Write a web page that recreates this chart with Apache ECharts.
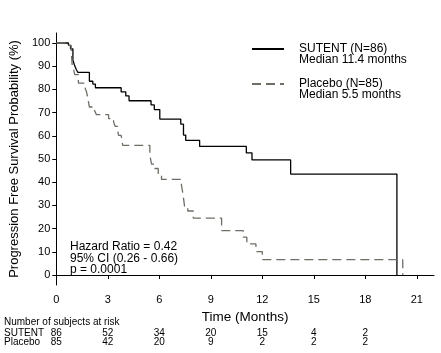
<!DOCTYPE html>
<html>
<head>
<meta charset="utf-8">
<script src="https://cdn.jsdelivr.net/npm/echarts@6/dist/echarts.min.js"></script>
<style>
html,body{margin:0;padding:0;background:#fff}
#main{width:441px;height:353px}
</style>
</head>
<body>
<div id="main"></div>
<script>
// KM 曲线：每个点 = [月份, 该时刻之后的生存率%]
var sutentPts = [[0,100],[0.71,99],[0.83,97.5],[0.97,92.6],[1.06,90.5],[1.16,88.7],[1.26,87.3],
  [1.93,83.5],[2.13,82.3],[2.28,80.7],[3.78,78.9],[4.05,77.2],[4.24,75.1],[5.52,73.3],[5.71,71.3],
  [6.03,67.2],[7.25,65.0],[7.41,60.3],[7.54,58.0],[8.35,55.4],[11.07,52.6],[11.4,49.6],
  [13.65,43.5],[19.84,0]];
var placeboPts = [[0,100],[0.73,99],[0.87,96.1],[0.93,90.4],[1.02,88.2],[1.08,86.4],[1.29,82.7],
  [1.66,81.0],[1.76,79.0],[1.82,76.9],[1.93,72.4],[2.23,70.9],[2.34,69.1],[3.05,67.4],[3.34,65.9],
  [3.43,64.1],[3.57,62.4],[3.63,60.2],[3.78,59.5],[3.87,55.9],[5.45,51.6],[5.55,47.8],[5.74,45.9],
  [5.94,43.0],[6.13,41.2],[7.29,38.8],[7.39,34.5],[7.47,29.7],[7.66,27.6],[7.98,24.5],[9.63,19.1],
  [10.89,16.3],[11.10,13.4],[11.63,10.1],[12.0,6.6],[20.18,0]];
var xTicks = [0,3,6,9,12,15,18,21];
var yTicks = [0,10,20,30,40,50,60,70,80,90,100];
var riskMonths = [0,3,6,9,12,15,18];
var sutentRisk = [86,52,34,20,15,4,2];
var placeboRisk = [85,42,20,9,2,2,2];
var statLines = ['Hazard Ratio = 0.42','95% CI (0.26 - 0.66)','p = 0.0001'];

var FONT = 'Arial, "Liberation Sans", sans-serif';
var myChart = echarts.init(document.getElementById('main'));
var option = {
  animation: false,
  backgroundColor: '#fff',
  textStyle: {fontFamily: FONT, color: '#000'},
  grid: {left: 54, right: 7, top: 33, bottom: 68},
  legend: {
    left: 251, top: 32, orient: 'vertical', padding: 0,
    itemWidth: 32, itemHeight: 10, itemGap: 1,
    selectedMode: false,
    itemStyle: {opacity: 0},
    textStyle: {fontFamily: FONT, fontSize: 12, lineHeight: 11, color: '#000', padding: [0,0,0,10]},
    formatter: function(name){
      // 首行留空，让第一行文字与图例线对齐
      return name == 'SUTENT' ? ' \nSUTENT (N=86)\nMedian 11.4 months' : ' \nPlacebo (N=85)\nMedian 5.5 months';
    },
    data: ['SUTENT','Placebo']
  },
  xAxis: {
    type: 'value', min: 0, max: 22,
    name: 'Time (Months)', nameLocation: 'middle', nameGap: 18,
    nameTextStyle: {fontFamily: FONT, fontSize: 13.5, color: '#000'},
    axisLine: {lineStyle: {color: '#000', width: 1}},
    axisTick: {length: 4, lineStyle: {color: '#000'}, customValues: xTicks},
    axisLabel: {fontFamily: FONT, fontSize: 11, color: '#000', margin: 9, customValues: xTicks},
    splitLine: {show: false}
  },
  yAxis: {
    type: 'value', min: -4.3, max: 104.3,
    name: 'Progression Free Survival Probability (%)', nameLocation: 'middle', nameGap: 26,
    nameTextStyle: {fontFamily: FONT, fontSize: 13, color: '#000'},
    axisLine: {show: true, lineStyle: {color: '#000', width: 1}},
    axisTick: {show: true, length: 4, lineStyle: {color: '#000'}, customValues: yTicks},
    axisLabel: {fontFamily: FONT, fontSize: 11, color: '#000', margin: 6, customValues: yTicks},
    splitLine: {show: false}
  },
  series: [
    {
      name: 'SUTENT', type: 'line', step: 'end', symbol: 'none',
      data: sutentPts,
      lineStyle: {color: '#000', width: 1.3},
      itemStyle: {color: '#000'}
    },
    {
      name: 'Placebo', type: 'line', step: 'end', symbol: 'none',
      data: placeboPts,
      lineStyle: {color: '#6e6e66', width: 1.3, type: [9,5]},
      itemStyle: {color: '#6e6e66'}
    }
  ]
};
myChart.setOption(option);

// 风险人数表 + 统计文字
var g = [];
g.push({type: 'text', left: 70, top: 241,
  style: {text: statLines.join('\n'), font: '12px ' + FONT, lineHeight: 11.5, fill: '#000'}});
g.push({type: 'text', x: 4, y: 322, style: {text: 'Number of subjects at risk', font: '10px ' + FONT, fill: '#000', verticalAlign: 'middle'}});
g.push({type: 'text', x: 4, y: 333, style: {text: 'SUTENT', font: '10px ' + FONT, fill: '#000', verticalAlign: 'middle'}});
g.push({type: 'text', x: 4, y: 342, style: {text: 'Placebo', font: '10px ' + FONT, fill: '#000', verticalAlign: 'middle'}});
for (var i = 0; i < riskMonths.length; i++) {
  var px = myChart.convertToPixel({xAxisIndex: 0}, riskMonths[i]);
  g.push({type: 'text', x: px, y: 333, style: {text: String(sutentRisk[i]), font: '10px ' + FONT, fill: '#000', align: 'center', verticalAlign: 'middle'}});
  g.push({type: 'text', x: px, y: 342, style: {text: String(placeboRisk[i]), font: '10px ' + FONT, fill: '#000', align: 'center', verticalAlign: 'middle'}});
}
myChart.setOption({graphic: g});
</script>
</body>
</html>
